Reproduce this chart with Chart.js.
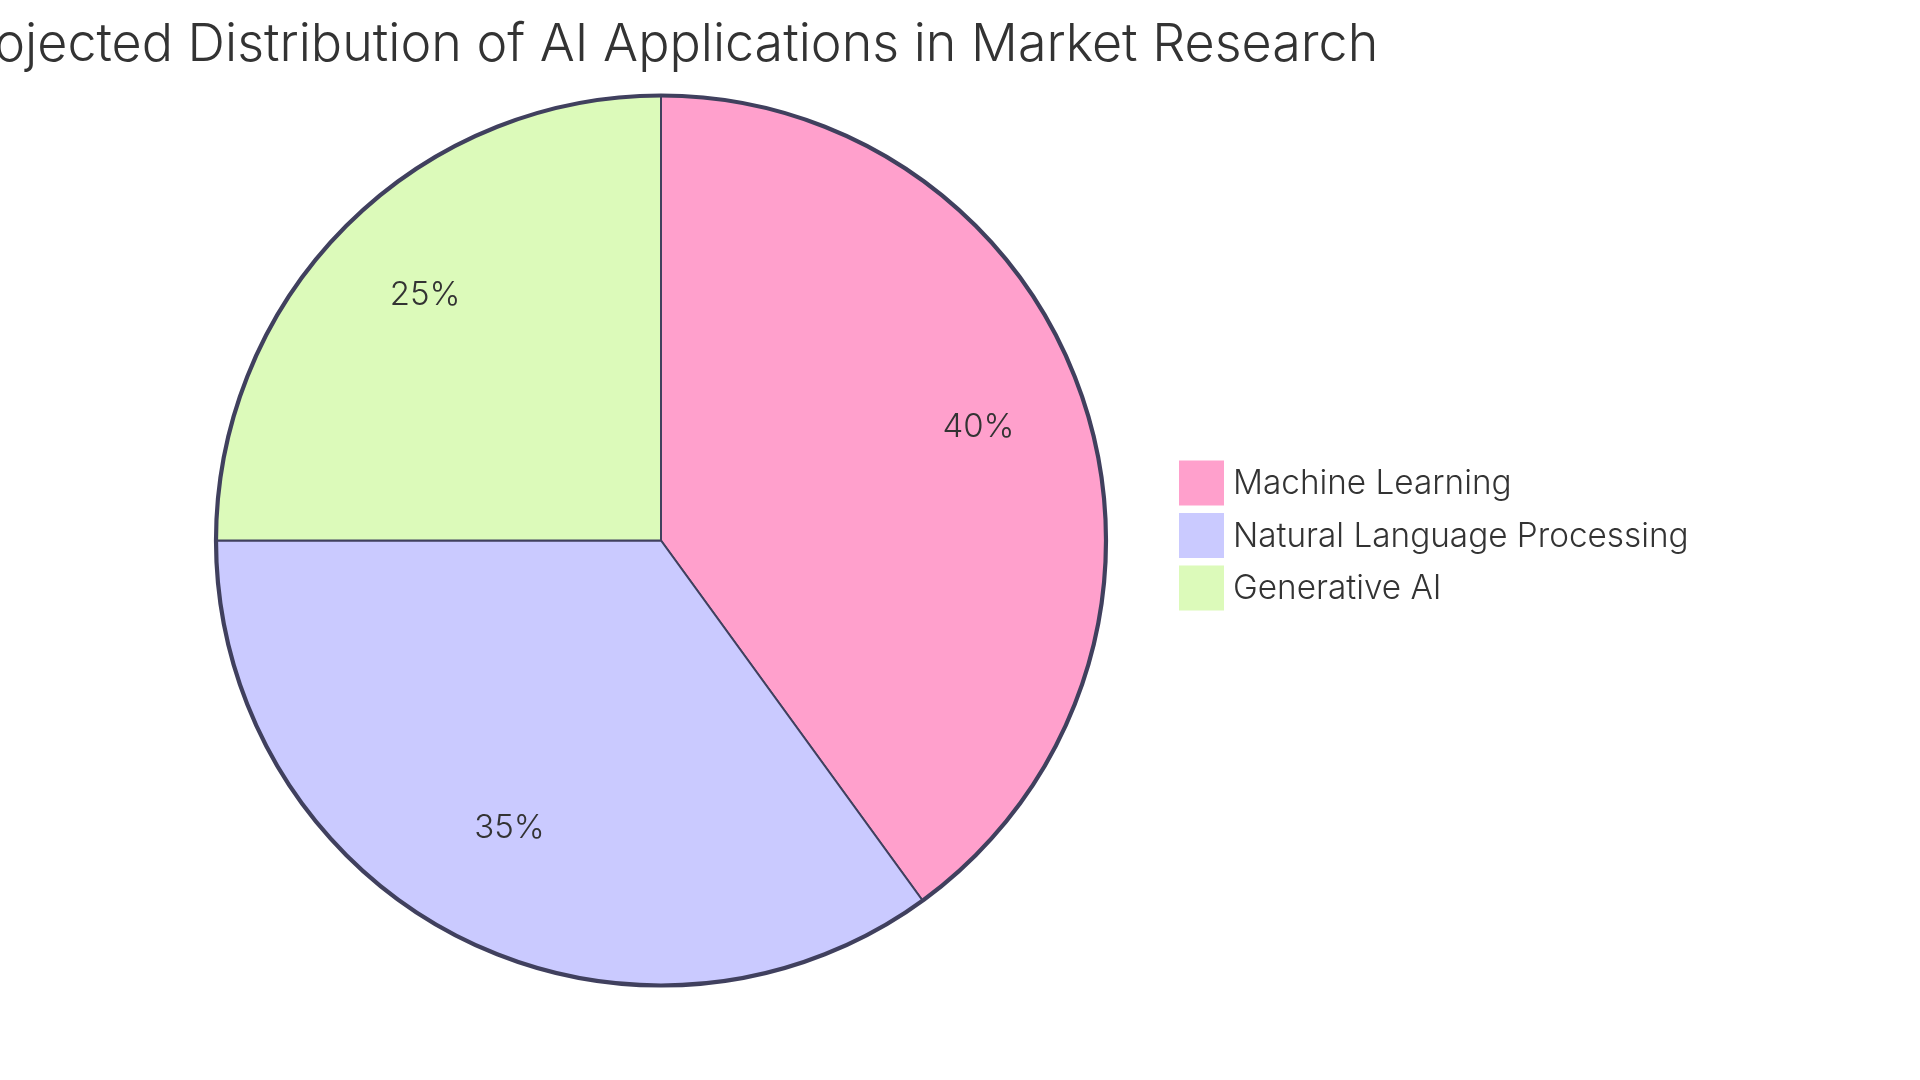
<!DOCTYPE html>
<html>
<head>
<meta charset="utf-8">
<title>Projected Distribution of AI Applications in Market Research</title>
<script src="https://cdn.jsdelivr.net/npm/chart.js@4/dist/chart.umd.min.js"></script>
<style>
  html, body { margin: 0; padding: 0; background: #fff; }
  #wrap { width: 1920px; height: 1080px; position: relative; }
</style>
</head>
<body>
<div id="wrap"><canvas id="piechart"></canvas></div>
<script>
const chartTitle = "Projected Distribution of AI Applications in Market Research";
const categories = ["Machine Learning", "Natural Language Processing", "Generative AI"];
const shares = [40, 35, 25];
const sliceColors = ["#FFA0CC", "#CACAFF", "#DCFABA"];

const strokeColor = "#40405E";
const textColor = "#333333";
const fontFamily = "Inter, 'Noto Sans', sans-serif";

// title, percent labels, outer ring and legend drawn on top of the pie
const piePlugin = {
  id: "pieExtras",
  afterDatasetsDraw(chart){
    const ctx = chart.ctx;
    const arcs = chart.getDatasetMeta(0).data;
    const total = shares.reduce((a, b) => a + b, 0);
    const cx = arcs[0].x, cy = arcs[0].y, r = arcs[0].outerRadius;

    ctx.save();
    // outer ring is heavier than the slice edges
    ctx.beginPath();
    ctx.arc(cx, cy, r, 0, Math.PI * 2);
    ctx.lineWidth = 4.2;
    ctx.strokeStyle = strokeColor;
    ctx.stroke();

    // percentages at 3/4 of the radius
    ctx.fillStyle = textColor;
    ctx.font = "300 33px " + fontFamily;
    ctx.textAlign = "center";
    ctx.textBaseline = "alphabetic";
    arcs.forEach((arc, i) => {
      const mid = (arc.startAngle + arc.endAngle) / 2;
      const lx = cx + Math.cos(mid) * r * 0.75;
      const ly = cy + Math.sin(mid) * r * 0.75;
      ctx.fillText(Math.round(shares[i] / total * 100) + "%", lx, ly);
    });

    // title over the pie centre
    ctx.font = "300 52px " + fontFamily;
    ctx.fillText(chartTitle, cx, 61);

    // legend to the right
    const lx = cx + r + 73;
    const box = 45, step = 52.5;
    const top = cy - 80;
    ctx.font = "300 33.3px " + fontFamily;
    ctx.textAlign = "left";
    ctx.textBaseline = "middle";
    categories.forEach((name, i) => {
      const y = top + i * step;
      ctx.fillStyle = sliceColors[i];
      ctx.fillRect(lx, y, box, box);
      ctx.fillStyle = textColor;
      ctx.fillText(name, lx + box + 9, y + box / 2 + 1);
    });
    ctx.restore();
  }
};

const ctxPie = document.getElementById("piechart").getContext("2d");

let piechart = new Chart(ctxPie, {
  type: "pie",
  data: {
    labels: categories,
    datasets: [{
      data: shares,
      backgroundColor: sliceColors,
      borderColor: strokeColor,
      borderWidth: 2,
      radius: 445
    }]
  },
  options: {
    responsive: true,
    maintainAspectRatio: false,
    animation: false,
    layout: {padding: {left: 0, right: 598, top: 1, bottom: 0}},
    plugins: {
      legend: {display: false},
      title: {display: false},
      tooltip: {enabled: false}
    }
  },
  plugins: [piePlugin]
});
</script>
</body>
</html>
